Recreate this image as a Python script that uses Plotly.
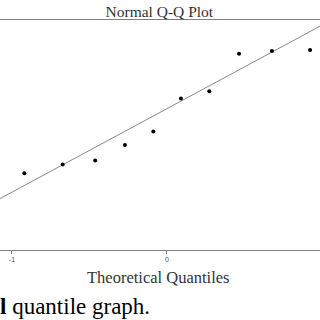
import plotly.graph_objects as go

# Theoretical quantiles (visible points) and sample quantiles
theoretical = [-0.92, -0.673, -0.463, -0.271, -0.088, 0.090, 0.273, 0.465, 0.677, 0.923]
sample = [-0.417, -0.361, -0.335, -0.234, -0.148, 0.065, 0.112, 0.355, 0.372, 0.379]
line_x = [-1.10, 1.00]
line_slope = 0.539
line_intercept = 0.0
line_y = [line_intercept + line_slope * v for v in line_x]
tick_vals = [-1, 0]
tick_text = ["-1", "0"]

fig = go.Figure()
fig.add_trace(go.Scatter(x=line_x, y=line_y, mode="lines",
                         line=dict(color="#8a8a8a", width=1), hoverinfo="skip"))
fig.add_trace(go.Scatter(x=theoretical, y=sample, mode="markers",
                         marker=dict(color="black", size=4)))

fig.update_layout(
    width=320, height=320,
    margin=dict(l=0, r=0, t=20, b=70),
    paper_bgcolor="white", plot_bgcolor="white",
    showlegend=False,
    title=dict(text="Normal Q-Q Plot", x=0.498, xanchor="center", y=1 - 11.5/320, yanchor="middle",
               font=dict(family="Liberation Serif", size=15.5, color="#333333")),
    xaxis=dict(range=[-1.077, 0.987], tickvals=tick_vals, ticktext=tick_text,
               showgrid=False, zeroline=False, showline=True, mirror=True,
               linecolor="#808080", linewidth=1, ticks="outside", ticklen=3,
               tickcolor="#808080", tickfont=dict(family="Liberation Sans", size=7, color="#555555")),
    yaxis=dict(range=[-0.912, 0.572], showgrid=False, zeroline=False, showline=False,
               showticklabels=False, ticks=""),
    annotations=[
        dict(text="Theoretical Quantiles", xref="paper", yref="paper", x=0.493, y=-0.12,
             xanchor="center", yanchor="middle", showarrow=False,
             font=dict(family="Liberation Serif", size=16.5, color="#333333")),
        dict(text="<b>l</b> quantile graph.", xref="paper", yref="paper", x=-0.005, y=-0.245,
             xanchor="left", yanchor="middle", showarrow=False,
             font=dict(family="Liberation Serif", size=23, color="black")),
    ],
)

fig.write_html("out.html")
